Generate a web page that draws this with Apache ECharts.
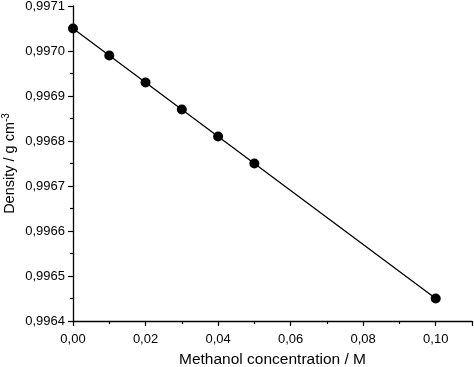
<!DOCTYPE html>
<html><head><meta charset="utf-8">
<script src="https://cdn.jsdelivr.net/npm/echarts@6/dist/echarts.min.js"></script>
<style>html,body{margin:0;padding:0;background:#fff}#c{width:474px;height:367px}</style>
</head><body><div id="c"></div>
<script>
const concentrations = [0.00, 0.01, 0.02, 0.03, 0.04, 0.05, 0.10];
const densities = [0.99705, 0.99699, 0.99693, 0.99687, 0.99681, 0.99675, 0.99645];
const xTitle = 'Methanol concentration / M';
const yTitleMain = 'Density / g cm';
const yTitleSup = '-3';

const comma = (v, d) => v.toFixed(d).replace('.', ',');
const font = 'Liberation Sans, Arial, sans-serif';
const chart = echarts.init(document.getElementById('c'));
chart.setOption({
  animation: false,
  grid: {left: 73, right: 2, top: 6, bottom: 46, containLabel: false, outerBoundsMode: 'none'},
  xAxis: {
    type: 'value', min: 0, max: 0.11, interval: 0.02,
    name: xTitle, nameLocation: 'middle', nameGap: 31, nameMoveOverlap: false,
    nameTextStyle: {fontFamily: font, fontSize: 15.5, color: '#000'},
    axisLine: {show: true, onZero: false, lineStyle: {color: '#000', width: 1.3}},
    axisTick: {show: true, length: 5, lineStyle: {color: '#000', width: 1.2}},
    minorTick: {show: true, splitNumber: 2, length: 3, lineStyle: {color: '#000', width: 1.2}},
    splitLine: {show: false},
    axisLabel: {fontFamily: font, fontSize: 13, color: '#000', margin: 12,
      formatter: v => (Math.abs(v - 0.11) < 1e-9 ? '' : comma(v, 2))}
  },
  yAxis: {
    type: 'value', min: 0.9964, max: 0.9971, interval: 0.0001,
    name: '{m|' + yTitleMain + '}{s|' + yTitleSup + '}', nameLocation: 'middle', nameGap: 54, nameMoveOverlap: false,
    nameTextStyle: {rich: {
      m: {fontFamily: font, fontSize: 14.5, color: '#000'},
      s: {fontFamily: font, fontSize: 10, color: '#000', verticalAlign: 'top', padding: [0, 0, 8, 0]}
    }},
    axisLine: {show: true, onZero: false, lineStyle: {color: '#000', width: 1.3}},
    axisTick: {show: true, length: 5, lineStyle: {color: '#000', width: 1.2}},
    minorTick: {show: true, splitNumber: 2, length: 3, lineStyle: {color: '#000', width: 1.2}},
    splitLine: {show: false},
    axisLabel: {fontFamily: font, fontSize: 13, color: '#000', margin: 8,
      formatter: v => comma(v, 4)}
  },
  series: [{
    type: 'line',
    data: concentrations.map((c, i) => [c, densities[i]]),
    symbol: 'circle', symbolSize: 10,
    itemStyle: {color: '#000'},
    lineStyle: {color: '#000', width: 1.3}
  }]
});
</script></body></html>
